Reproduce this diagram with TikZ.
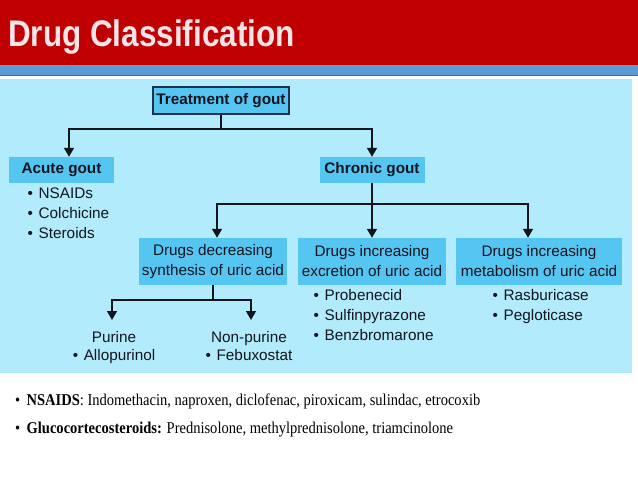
\documentclass[tikz,border=0pt]{standalone}
\usepackage{fontspec}
\usepackage{graphicx}
\setmainfont{Liberation Serif}
\newfontfamily\ars{Liberation Sans}
\usetikzlibrary{arrows.meta}
\definecolor{hdrred}{RGB}{192,0,0}
\definecolor{band}{RGB}{91,155,213}
\definecolor{bandline}{RGB}{60,110,160}
\definecolor{panel}{RGB}{178,235,252}
\definecolor{boxblue}{RGB}{85,197,242}
\definecolor{ink}{RGB}{20,20,30}
\definecolor{navy}{RGB}{30,50,80}
\definecolor{titlecol}{RGB}{246,228,232}
\begin{document}
\begin{tikzpicture}[x=1pt,y=-1pt,
  ln/.style={draw=ink,line width=1.6pt},
  arr/.style={ln,-{Triangle[width=10pt,length=9pt]}},
  box/.style={fill=boxblue,inner sep=0pt,align=center,text=ink,font=\ars\fontsize{15.3}{20}\selectfont},
  boldbox/.style={box,font=\ars\bfseries\fontsize{15.3}{20}\selectfont},
  list/.style={anchor=north west,inner sep=0pt,align=left,text=ink,font=\ars\fontsize{15.3}{20}\selectfont},
  sub/.style={anchor=north,inner sep=0pt,align=center,text=ink,font=\ars\fontsize{15.3}{18}\selectfont},
  foot/.style={anchor=base west,inner sep=0pt,text=black,font=\fontsize{16.5}{20}\selectfont}]
\useasboundingbox (0,0) rectangle (638,479);
\fill[white] (0,0) rectangle (638,479);
\fill[hdrred] (0,0) rectangle (638,65);
\fill[band] (0,65) rectangle (638,75);
\draw[bandline,line width=0.8pt] (0,75) -- (638,75);
\fill[panel] (0,79) rectangle (632,373);

\node[anchor=base west,inner sep=0pt,text=titlecol,font=\ars\bfseries\fontsize{37}{40}\selectfont] (title) at (8,46) {\scalebox{0.85}[1]{Drug Classification}};

\node[boldbox,draw=navy,line width=1.2pt,minimum width=136pt,minimum height=27pt] (treat) at (221,100.5) {Treatment of gout};
\node[boldbox,minimum width=105pt,minimum height=26pt] (acute) at (61.5,170) {Acute gout};
\node[boldbox,minimum width=105pt,minimum height=26pt] (chronic) at (372,170) {Chronic gout};

\node[box,minimum width=148pt,minimum height=47pt] (dec) at (213,261.5) {Drugs decreasing\\synthesis of uric acid};
\node[box,minimum width=148pt,minimum height=47pt] (exc) at (372,261.5) {Drugs increasing\\excretion of uric acid};
\node[box,minimum width=166pt,minimum height=47pt] (met) at (539,261.5) {Drugs increasing\\metabolism of uric acid};

\node[list] (acutelist) at (27.5,188) {\makebox[11pt][l]{•}NSAIDs\\\makebox[11pt][l]{•}Colchicine\\\makebox[11pt][l]{•}Steroids};
\node[list] (exclist) at (313.5,289) {\makebox[11pt][l]{•}Probenecid\\\makebox[11pt][l]{•}Sulfinpyrazone\\\makebox[11pt][l]{•}Benzbromarone};
\node[list] (metlist) at (492.5,289) {\makebox[11pt][l]{•}Rasburicase\\\makebox[11pt][l]{•}Pegloticase};

\node[sub] (pur) at (114,331) {Purine\\\makebox[11pt][l]{•}Allopurinol};
\node[sub] (npur) at (249,331) {Non-purine\\\makebox[11pt][l]{•}Febuxostat};

\coordinate (j1) at (221,129);
\draw[ln] (treat.south) -- (j1);
\draw[arr] (j1) -| ([xshift=7.5pt]acute.north);
\draw[arr] (j1) -| (chronic.north);

\coordinate (j2) at (372,204);
\draw[arr] (chronic.south) -- (exc.north);
\draw[arr] (j2) -| ([xshift=4pt]dec.north);
\draw[arr] (j2) -| ([xshift=-11pt]met.north);

\coordinate (j3) at (213,300);
\draw[ln] (dec.south) -- (j3);
\draw[arr] (j3) -| ([xshift=-2pt,yshift=11pt]pur.north);
\draw[arr] (j3) -| ([xshift=2pt,yshift=11pt]npur.north);

\node[foot] (f1) at (15,405) {\scalebox{0.88}[1]{\makebox[13pt][l]{•}\textbf{NSAIDS}: Indomethacin, naproxen, diclofenac, piroxicam, sulindac, etrocoxib}};
\node[foot] (f2) at (15,433) {\scalebox{0.88}[1]{\makebox[13pt][l]{•}\textbf{Glucocortecosteroids:} Prednisolone, methylprednisolone, triamcinolone}};
\end{tikzpicture}
\end{document}
